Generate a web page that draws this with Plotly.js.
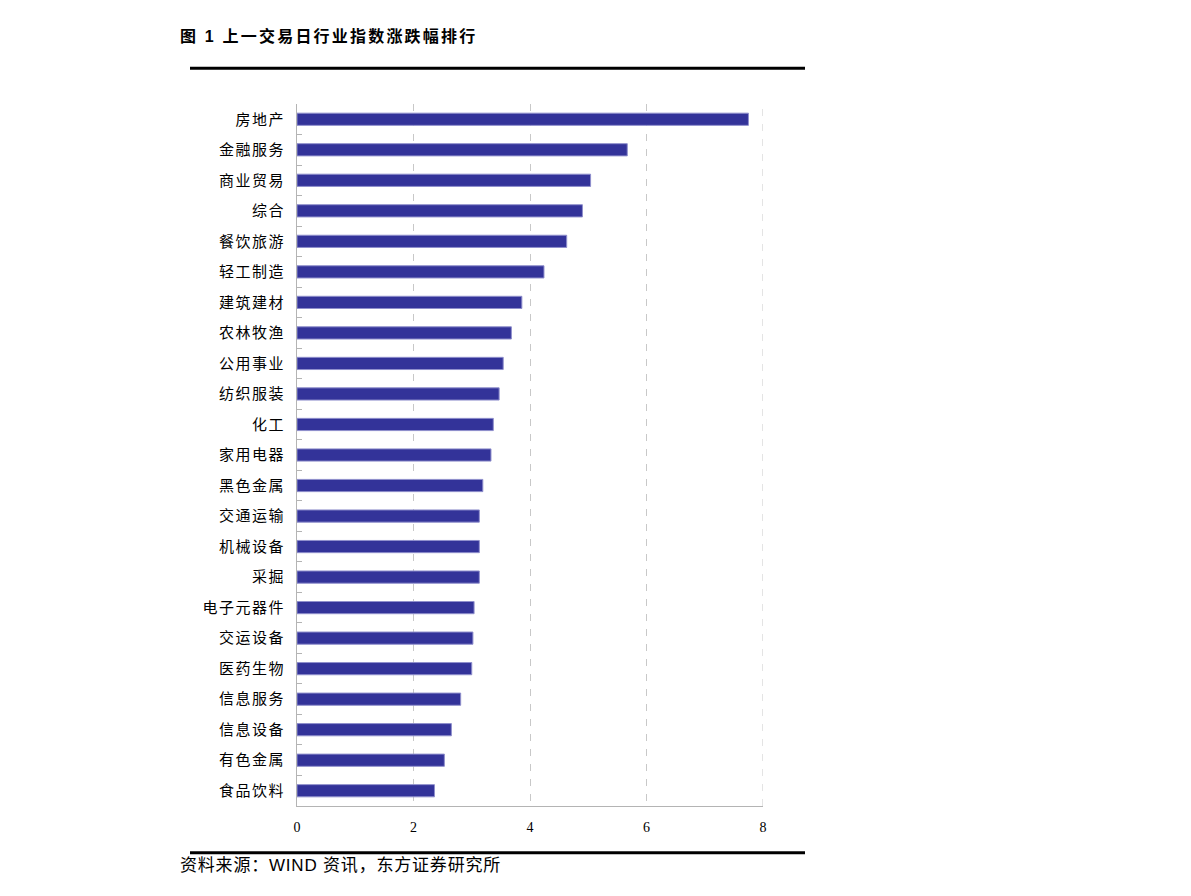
<!DOCTYPE html>
<html>
<head>
<meta charset="utf-8">
<script src="https://cdn.plot.ly/plotly-3.0.1.min.js"></script>
<style>
html,body{margin:0;padding:0;background:#fff;}
#chart{width:1191px;height:896px;}
#chart .ytick text{letter-spacing:1.5px;}
#chart g.annotation[data-index="0"] text{letter-spacing:2.2px;}
#chart g.annotation[data-index="1"] text{letter-spacing:0.8px;}
</style>
</head>
<body>
<div id="chart"></div>
<script>
const categories = ["房地产","金融服务","商业贸易","综合","餐饮旅游","轻工制造","建筑建材","农林牧渔","公用事业","纺织服装","化工","家用电器","黑色金属","交通运输","机械设备","采掘","电子元器件","交运设备","医药生物","信息服务","信息设备","有色金属","食品饮料"];
const values = [7.75,5.67,5.04,4.90,4.63,4.24,3.86,3.68,3.54,3.47,3.37,3.33,3.19,3.13,3.13,3.13,3.04,3.02,3.00,2.81,2.65,2.53,2.36];
const xTicks = [0,2,4,6,8];
const titleText = "图 1 上一交易日行业指数涨跌幅排行";
const sourceText = "资料来源：WIND 资讯，东方证券研究所";

const L = 297, R = 763, T = 103.7, B = 806.3;
const W = R - L, H = B - T;
const px = x => (x - L) / W;
const py = y => (B - y) / H;

const trace = {
  type: "bar",
  orientation: "h",
  x: values,
  y: categories,
  marker: {color: "#333399", line: {color: "#8f8fcc", width: 1}},
  hoverinfo: "skip"
};

const gridStyle = {color: "#c8c8c8", width: 1, dash: "7px,8px"};

const layout = {
  width: 1191, height: 896,
  margin: {l: L, r: 1191 - R, t: T, b: 896 - B, pad: 0},
  paper_bgcolor: "#ffffff", plot_bgcolor: "#ffffff",
  showlegend: false,
  bargap: 0.6,
  font: {family: "'Liberation Serif', 'Noto Sans CJK SC', serif", color: "#000"},
  xaxis: {
    range: [xTicks[0], xTicks[xTicks.length - 1]], tickvals: xTicks, ticktext: xTicks.map(String),
    showgrid: true, gridcolor: gridStyle.color, griddash: gridStyle.dash, gridwidth: 1,
    zeroline: false, showline: true, linecolor: "#b4b4b4", linewidth: 1,
    ticks: "", ticklabelstandoff: 8,
    tickfont: {family: "'Liberation Serif', serif", size: 14, color: "#000"},
    fixedrange: true
  },
  yaxis: {
    type: "category", autorange: "reversed",
    showgrid: false, zeroline: false,
    showline: true, linecolor: "#b4b4b4", linewidth: 1,
    ticks: "inside", tickson: "boundaries", ticklen: 5, tickcolor: "#b4b4b4", tickwidth: 1,
    ticklabelstandoff: 8,
    tickfont: {family: "'Noto Sans CJK SC', serif", size: 15, color: "#000"},
    fixedrange: true
  },
  shapes: [
    {type: "line", xref: "x", yref: "paper", x0: xTicks[xTicks.length - 1], x1: xTicks[xTicks.length - 1], y0: 0, y1: 1, line: gridStyle, layer: "below"},
    {type: "line", xref: "paper", yref: "paper", x0: px(190), x1: px(805), y0: py(68), y1: py(68), line: {color: "#000", width: 3}},
    {type: "line", xref: "paper", yref: "paper", x0: px(190), x1: px(805), y0: py(853), y1: py(853), line: {color: "#000", width: 3}}
  ],
  annotations: [
    {xref: "paper", yref: "paper", x: px(178), y: py(36), xanchor: "left", yanchor: "middle", align: "left", showarrow: false,
     text: "<b>" + titleText + "</b>", font: {family: "'Liberation Sans', 'Noto Sans CJK SC', sans-serif", size: 16, color: "#000"}},
    {xref: "paper", yref: "paper", x: px(178), y: py(866), xanchor: "left", yanchor: "middle", align: "left", showarrow: false,
     text: sourceText, font: {family: "'Liberation Sans', 'Noto Sans CJK SC', sans-serif", size: 17, color: "#000"}}
  ]
};

Plotly.newPlot("chart", [trace], layout, {displayModeBar: false, staticPlot: true});
</script>
</body>
</html>
